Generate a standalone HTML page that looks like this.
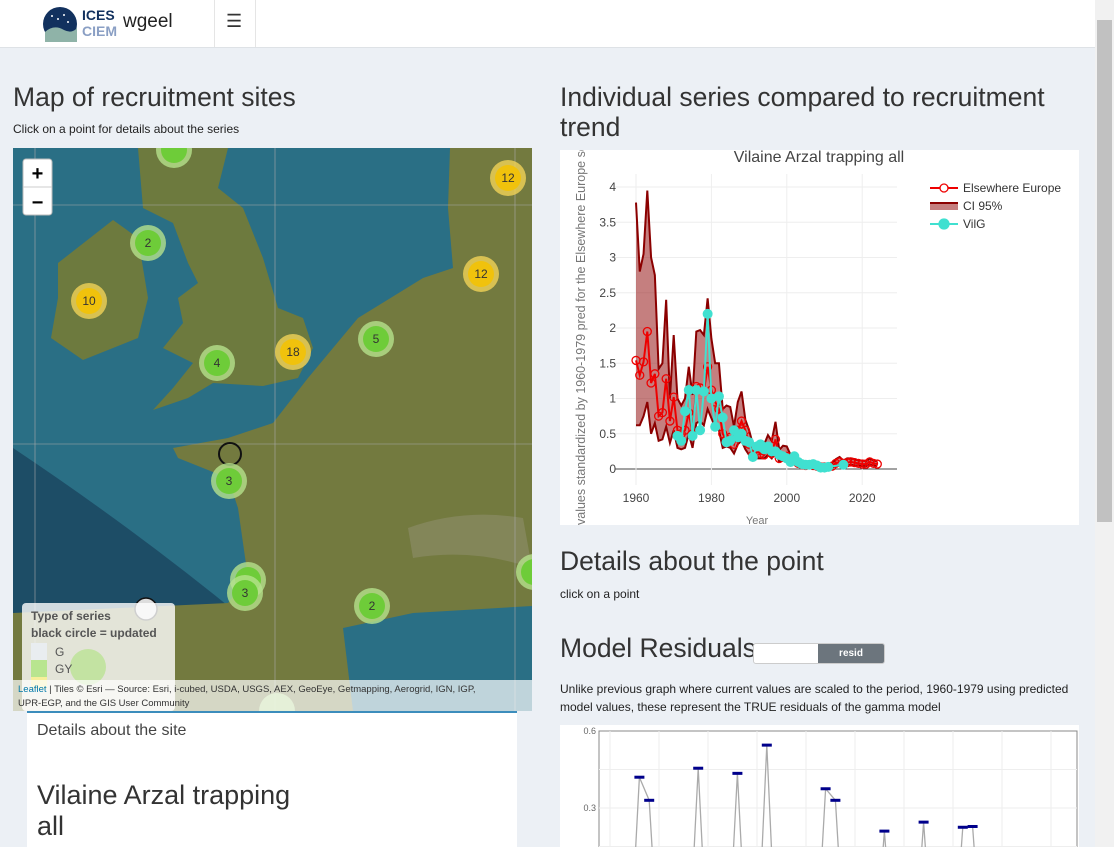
<!DOCTYPE html>
<html><head><meta charset="utf-8"><style>
body{margin:0;width:1114px;height:847px;overflow:hidden;background:#ecf0f5;font-family:"Liberation Sans",sans-serif;color:#333;position:relative}
.abs{position:absolute}
h2{position:absolute;margin:0;font-weight:normal;font-size:26.5px;color:#333;line-height:30px}
.small{position:absolute;font-size:12px;color:#222}
</style></head><body>
<div class="abs" style="left:0;top:0;width:1095px;height:47px;background:#fff;border-bottom:1px solid #dee2e6">
  <svg class="abs" style="left:42px;top:6px" width="40" height="36"><circle cx="18" cy="18" r="17" fill="#12315e"/><path d="M3 26 Q12 18 22 24 Q30 28 35 22 L35 36 L3 36Z" fill="#8fb3a8"/><circle cx="10" cy="10" r="1" fill="#fff"/><circle cx="16" cy="13" r="1" fill="#fff"/><circle cx="22" cy="9" r="1" fill="#fff"/><circle cx="26" cy="16" r="1" fill="#fff"/></svg>
  <div class="abs" style="left:82px;top:7px;font-weight:bold;font-size:14px;color:#12315e;line-height:16px">ICES<br><span style="color:#8a9fc4">CIEM</span></div>
  <div class="abs" style="left:123px;top:11px;font-size:19px;color:#222">wgeel</div>
  <div class="abs" style="left:214px;top:0;width:1px;height:47px;background:#e5e5e5"></div>
  <div class="abs" style="left:226px;top:11px;font-size:18px;color:#333">☰</div>
  <div class="abs" style="left:255px;top:0;width:1px;height:47px;background:#e5e5e5"></div>
</div>
<div class="abs" style="left:1095px;top:0;width:19px;height:847px;background:#f1f1f1"><div class="abs" style="left:2px;top:20px;width:15px;height:502px;background:#c1c1c1"></div></div>

<h2 style="left:13px;top:82px">Map of recruitment sites</h2>
<div class="small" style="left:13px;top:122px">Click on a point for details about the series</div>

<svg class="abs" style="left:13px;top:148px" width="519" height="563">
  <rect width="519" height="563" fill="#2a6f85"/>
  <path d="M0 300 Q120 380 230 470 L230 563 L0 563Z" fill="#1d4d66"/>
  <path d="M125 0 L215 0 L205 40 L230 60 L250 110 L265 160 L290 170 L300 200 L285 230 L250 238 L200 235 L175 250 L140 262 L160 240 L180 215 L150 200 L170 175 L165 150 L185 135 L175 115 L160 75 L130 60Z" fill="#6d7a3e"/>
  <path d="M45 115 L100 72 L125 90 L135 150 L125 190 L70 212 L38 190 L45 150Z" fill="#6d7a3e"/>
  <path d="M437 0 L519 0 L519 563 L0 563 L0 465 L215 455 L235 430 L225 360 L215 330 L165 310 L160 300 L215 290 L260 275 L295 230 L345 170 L410 130 L440 120 L435 60Z" fill="#737a3f"/>
  <path d="M330 480 L400 465 L519 458 L519 563 L340 563Z" fill="#2a6f85"/>
  <path d="M395 380 Q450 360 510 370 L519 420 Q460 400 400 410Z" fill="#8d8d6a" opacity=".6"/>
  <line x1="22" y1="0" x2="22" y2="563" stroke="#aaa" stroke-width=".6"/><line x1="262" y1="0" x2="262" y2="563" stroke="#aaa" stroke-width=".6"/><line x1="502" y1="0" x2="502" y2="563" stroke="#aaa" stroke-width=".6"/>
  <line x1="0" y1="57" x2="519" y2="57" stroke="#aaa" stroke-width=".6"/><line x1="0" y1="296" x2="519" y2="296" stroke="#aaa" stroke-width=".6"/>
  <g font-size="12" text-anchor="middle" fill="#333" font-family="Liberation Sans">
   <g><circle cx="161" cy="2" r="18" fill="#b5e28c" opacity=".8"/><circle cx="161" cy="2" r="13" fill="#6ecc39"/></g>
   <g><circle cx="495" cy="30" r="18" fill="#f1d357" opacity=".8"/><circle cx="495" cy="30" r="13" fill="#f0c20c"/><text x="495" y="34">12</text></g>
   <g><circle cx="135" cy="95" r="18" fill="#b5e28c" opacity=".8"/><circle cx="135" cy="95" r="13" fill="#6ecc39"/><text x="135" y="99">2</text></g>
   <g><circle cx="76" cy="153" r="18" fill="#f1d357" opacity=".8"/><circle cx="76" cy="153" r="13" fill="#f0c20c"/><text x="76" y="157">10</text></g>
   <g><circle cx="468" cy="126" r="18" fill="#f1d357" opacity=".8"/><circle cx="468" cy="126" r="13" fill="#f0c20c"/><text x="468" y="130">12</text></g>
   <g><circle cx="280" cy="204" r="18" fill="#f1d357" opacity=".8"/><circle cx="280" cy="204" r="13" fill="#f0c20c"/><text x="280" y="208">18</text></g>
   <g><circle cx="204" cy="215" r="18" fill="#b5e28c" opacity=".8"/><circle cx="204" cy="215" r="13" fill="#6ecc39"/><text x="204" y="219">4</text></g>
   <g><circle cx="363" cy="191" r="18" fill="#b5e28c" opacity=".8"/><circle cx="363" cy="191" r="13" fill="#6ecc39"/><text x="363" y="195">5</text></g>
   <circle cx="217" cy="306" r="11" fill="none" stroke="#111" stroke-width="2"/>
   <g><circle cx="216" cy="333" r="18" fill="#b5e28c" opacity=".8"/><circle cx="216" cy="333" r="13" fill="#6ecc39"/><text x="216" y="337">3</text></g>
   <g><circle cx="235" cy="432" r="18" fill="#b5e28c" opacity=".8"/><circle cx="235" cy="432" r="13" fill="#6ecc39"/></g>
   <g><circle cx="232" cy="445" r="18" fill="#b5e28c" opacity=".8"/><circle cx="232" cy="445" r="13" fill="#6ecc39"/><text x="232" y="449">3</text></g>
   <g><circle cx="359" cy="458" r="18" fill="#b5e28c" opacity=".8"/><circle cx="359" cy="458" r="13" fill="#6ecc39"/><text x="359" y="462">2</text></g>
   <g><circle cx="521" cy="424" r="18" fill="#b5e28c" opacity=".8"/><circle cx="521" cy="424" r="13" fill="#6ecc39"/></g>
   <circle cx="133" cy="461" r="11" fill="#ddd" stroke="#111" stroke-width="1.5"/>
   <g><circle cx="264" cy="563" r="18" fill="#b5e28c" opacity=".8"/></g>
  </g>
  <g><rect x="10" y="11" width="29" height="56" rx="3" fill="#fff" stroke="#bbb"/><line x1="10" y1="39" x2="39" y2="39" stroke="#ccc"/><text x="24.5" y="32" text-anchor="middle" font-size="20" font-weight="bold" fill="#000">+</text><text x="24.5" y="61" text-anchor="middle" font-size="20" font-weight="bold" fill="#000">−</text></g>
  <g><rect x="9" y="455" width="153" height="108" rx="4" fill="#fff" opacity=".8"/>
   <circle cx="75" cy="519" r="18" fill="#b5e28c" opacity=".7"/>
   <text x="18" y="472" font-size="12" font-weight="bold" fill="#555">Type of series</text><text x="18" y="489" font-size="12" font-weight="bold" fill="#555">black circle = updated</text>
   <rect x="18" y="495" width="16" height="17" fill="#e9edf0"/><text x="42" y="508" font-size="12" fill="#555">G</text>
   <rect x="18" y="512" width="16" height="17" fill="#b8e58f"/><text x="42" y="525" font-size="12" fill="#555">GY</text>
   <rect x="18" y="529" width="16" height="12" fill="#f6ef9a"/></g>
  <rect x="0" y="532" width="519" height="31" fill="#fff" opacity=".7"/>
  <text x="5" y="544" font-size="9.5" fill="#333"><tspan fill="#0078a8">Leaflet</tspan> | Tiles © Esri — Source: Esri, i-cubed, USDA, USGS, AEX, GeoEye, Getmapping, Aerogrid, IGN, IGP,</text>
  <text x="5" y="558" font-size="9.5" fill="#333">UPR-EGP, and the GIS User Community</text>
</svg>

<div class="abs" style="left:27px;top:711px;width:490px;height:134px;background:#fff;border-top:2px solid #3c8dbc;overflow:hidden">
  <div class="abs" style="left:10px;top:9px;font-size:16px;color:#444">Details about the site</div>
  <div class="abs" style="left:10px;top:67px;font-size:27px;color:#333;line-height:31px">Vilaine Arzal trapping<br>all</div>
</div>

<h2 style="left:560px;top:82px;width:520px">Individual series compared to recruitment trend</h2>
<div class="abs" style="left:560px;top:150px;width:519px;height:375px;background:#fff"></div>
<svg class="abs" id="c1" style="left:560px;top:150px" width="519" height="375" font-family="Liberation Sans"></svg>

<h2 style="left:560px;top:546px">Details about the point</h2>
<div class="small" style="left:560px;top:587px">click on a point</div>

<h2 style="left:560px;top:633px">Model Residuals</h2>
<div class="abs" style="left:753px;top:643px;width:130px;height:19px;border:1px solid #ccc;background:#fff;border-radius:3px;overflow:hidden"><div class="abs" style="left:64px;top:0;width:66px;height:19px;background:#6c757d;color:#fff;font-size:10px;font-weight:bold;text-align:center;line-height:19px">resid</div></div>
<div class="small" style="left:560px;top:680px;width:520px;line-height:18px">Unlike previous graph where current values are scaled to the period, 1960-1979 using predicted model values, these represent the TRUE residuals of the gamma model</div>
<div class="abs" style="left:560px;top:725px;width:519px;height:122px;background:#fff"></div>
<svg class="abs" id="c2" style="left:560px;top:725px" width="519" height="122" font-family="Liberation Sans"></svg>

<script>
const years=[];for(let y=1960;y<=2024;y++)years.push(y);
const eeVals=[1.54,1.33,1.52,1.95,1.22,1.35,0.75,0.8,1.28,0.68,1.02,0.55,0.5,0.55,0.8,0.5,1.17,1.15,1.1,1.45,1.12,0.95,0.85,0.5,0.42,0.45,0.35,0.55,0.68,0.55,0.35,0.2,0.25,0.22,0.2,0.3,0.22,0.42,0.15,0.18,0.18,0.1,0.12,0.08,0.06,0.05,0.06,0.05,0.04,0.03,0.03,0.03,0.04,0.08,0.1,0.08,0.09,0.1,0.09,0.08,0.07,0.07,0.1,0.08,0.07];
const ciUpper=[3.78,2.8,3.05,3.95,3.0,2.75,1.42,1.5,2.4,1.0,1.9,1.0,0.9,1.0,1.45,1.05,1.95,1.97,1.9,2.42,1.85,1.5,1.5,0.85,0.9,0.88,0.6,0.95,1.1,0.7,0.55,0.35,0.35,0.35,0.35,0.48,0.4,0.67,0.27,0.33,0.32,0.2,0.18,0.14,0.1,0.09,0.1,0.09,0.07,0.06,0.06,0.06,0.08,0.14,0.17,0.12,0.15,0.15,0.14,0.12,0.12,0.11,0.15,0.12,0.11];
const ciLower=[0.62,0.62,0.75,0.95,0.5,0.65,0.4,0.42,0.6,0.37,0.55,0.3,0.28,0.3,0.5,0.3,0.65,0.68,0.62,0.85,0.72,0.6,0.55,0.3,0.32,0.3,0.22,0.35,0.4,0.28,0.2,0.12,0.15,0.15,0.15,0.2,0.15,0.25,0.1,0.12,0.12,0.06,0.07,0.05,0.04,0.03,0.04,0.03,0.02,0.02,0.02,0.02,0.02,0.04,0.06,0.05,0.05,0.06,0.05,0.05,0.04,0.04,0.06,0.05,0.04];
const vilYears=[1971,1972,1973,1974,1975,1976,1977,1978,1979,1980,1981,1982,1983,1984,1985,1986,1987,1988,1989,1990,1991,1992,1993,1994,1995,1996,1997,1998,1999,2000,2001,2002,2003,2004,2005,2006,2007,2008,2009,2010,2011,2015];
const vilVals=[0.47,0.4,0.82,1.12,0.47,1.12,0.55,1.1,2.2,1.0,0.6,1.03,0.73,0.38,0.4,0.55,0.45,0.5,0.4,0.38,0.17,0.32,0.35,0.28,0.32,0.25,0.25,0.2,0.18,0.15,0.1,0.18,0.1,0.07,0.06,0.06,0.07,0.05,0.02,0.02,0.03,0.06];
const yTicks=[0,0.5,1,1.5,2,2.5,3,3.5,4];
const xTicks=[1960,1980,2000,2020];
const residYears=[1962,1963,1964,1965,1966,1967,1968,1969,1970,1971,1972,1973,1974,1975,1976,1977,1978,1979,1980,1981,1982,1983,1984,1985,1986,1987,1988,1989,1990,1991,1992,1993,1994,1995,1996,1997,1998,1999];
const residVals=[-0.3,-0.3,0.42,0.33,-0.3,-0.3,-0.3,-0.3,0.455,-0.3,-0.3,-0.3,0.435,-0.3,-0.3,0.545,-0.3,-0.3,-0.3,-0.3,-0.3,0.375,0.33,-0.3,-0.3,-0.3,-0.3,0.21,-0.3,-0.3,-0.3,0.245,-0.3,-0.3,-0.3,0.225,0.228,-0.3];
const residTicks=[0.3,0.6];

const NS='http://www.w3.org/2000/svg';
function mk(svg,t,a){const e=document.createElementNS(NS,t);for(const k in a)e.setAttribute(k,a[k]);svg.appendChild(e);return e;}
const c1=document.getElementById('c1');
const X=y=>76+(y-1960)*3.77, Y=v=>319-v*70.5;
yTicks.forEach(t=>{const g=mk(c1,'line',{x1:55,x2:337,y1:Y(t),y2:Y(t),stroke:t===0?'#444':'#eee','stroke-width':1});

const tx=mk(c1,'text',{x:56,y:Y(t)+4,'text-anchor':'end','font-size':12,fill:'#444'});tx.textContent=t;
});
xTicks.forEach(t=>{const g=mk(c1,'line',{x1:X(t),x2:X(t),y1:24,y2:335,stroke:'#eee'});

const tx=mk(c1,'text',{x:X(t),y:352,'text-anchor':'middle','font-size':12,fill:'#444'});tx.textContent=t;
});
let band=years.map((y,i)=>X(y)+','+Y(ciUpper[i])).join(' ')+' '+years.slice().reverse().map((y,i)=>X(y)+','+Y(ciLower[years.length-1-i])).join(' ');
const bp=mk(c1,'polygon',{points:band,fill:'rgba(139,0,0,0.5)',stroke:'none'});

const up=mk(c1,'polyline',{points:years.map((y,i)=>X(y)+','+Y(ciUpper[i])).join(' '),fill:'none',stroke:'#8b0000','stroke-width':2});

const lo=mk(c1,'polyline',{points:years.map((y,i)=>X(y)+','+Y(ciLower[i])).join(' '),fill:'none',stroke:'#8b0000','stroke-width':2});

const el=mk(c1,'polyline',{points:years.map((y,i)=>X(y)+','+Y(eeVals[i])).join(' '),fill:'none',stroke:'#e00','stroke-width':2});

years.forEach((y,i)=>{const p=mk(c1,'circle',{cx:X(y),cy:Y(eeVals[i]),r:4,fill:'none',stroke:'#e00','stroke-width':1.3});
});
const vl=mk(c1,'polyline',{points:vilYears.map((y,i)=>X(y)+','+Y(vilVals[i])).join(' '),fill:'none',stroke:'#40e0d0','stroke-width':2});

vilYears.forEach((y,i)=>{const p=mk(c1,'circle',{cx:X(y),cy:Y(vilVals[i]),r:5,fill:'#40e0d0'});
});
const tt=mk(c1,'text',{x:259,y:12,'text-anchor':'middle','font-size':16,fill:'#444'});tt.textContent='Vilaine Arzal trapping all';

const xt=mk(c1,'text',{x:197,y:374,'text-anchor':'middle','font-size':11,fill:'#777'});xt.textContent='Year';

const yt=mk(c1,'text',{x:-375,y:0,'text-anchor':'start','font-size':12.5,fill:'#777',transform:'translate(25,0) rotate(-90)'});yt.textContent='values standardized by 1960-1979 pred for the Elsewhere Europe series';

const lg=[['Elsewhere Europe','#e00','ring'],['CI 95%','#8b0000','band'],['VilG','#40e0d0','dot']];
lg.forEach((d,i)=>{const yy=38+i*18;
const g=document.createElementNS(NS,'g');c1.appendChild(g);

if(d[2]==='band'){mk(g,'rect',{x:370,y:yy-4,width:28,height:8,fill:'rgba(139,0,0,0.5)'});mk(g,'line',{x1:370,x2:398,y1:yy-3,y2:yy-3,stroke:'#8b0000','stroke-width':2});}
else{mk(g,'line',{x1:370,x2:398,y1:yy,y2:yy,stroke:d[1],'stroke-width':2});
mk(g,'circle',{cx:384,cy:yy,r:d[2]==='ring'?4:5,fill:d[2]==='ring'?'#fff':d[1],stroke:d[1],'stroke-width':1.3});}
const t=mk(g,'text',{x:403,y:yy+4,'font-size':12,fill:'#333'});t.textContent=d[0];});
const c2=document.getElementById('c2');
const X2=y=>50+(y-1961)*9.8, Y2=v=>6+(0.6-v)*256.7;
mk(c2,'rect',{x:39,y:6,width:478,height:130,fill:'none',stroke:'#888'});
for(let y=1961;y<=2011;y+=5){const g=mk(c2,'line',{x1:X2(y),x2:X2(y),y1:6,y2:122,stroke:'#eee'});}
[0.45,0.3,0.15].forEach(v=>mk(c2,'line',{x1:39,x2:517,y1:Y2(v),y2:Y2(v),stroke:'#eee'}));
residTicks.forEach(t=>{const tx=mk(c2,'text',{x:36,y:Y2(t)+3,'text-anchor':'end','font-size':9,fill:'#666'});tx.textContent=t;
});
const rl=mk(c2,'polyline',{points:residYears.map((y,i)=>X2(y)+','+Y2(residVals[i])).join(' '),fill:'none',stroke:'#aaa','stroke-width':1.3});

residYears.forEach((y,i)=>{if(residVals[i]>0){const m=mk(c2,'rect',{x:X2(y)-5,y:Y2(residVals[i])-1.5,width:10,height:3,fill:'#00008b'});
}});
</script>
</body></html>
